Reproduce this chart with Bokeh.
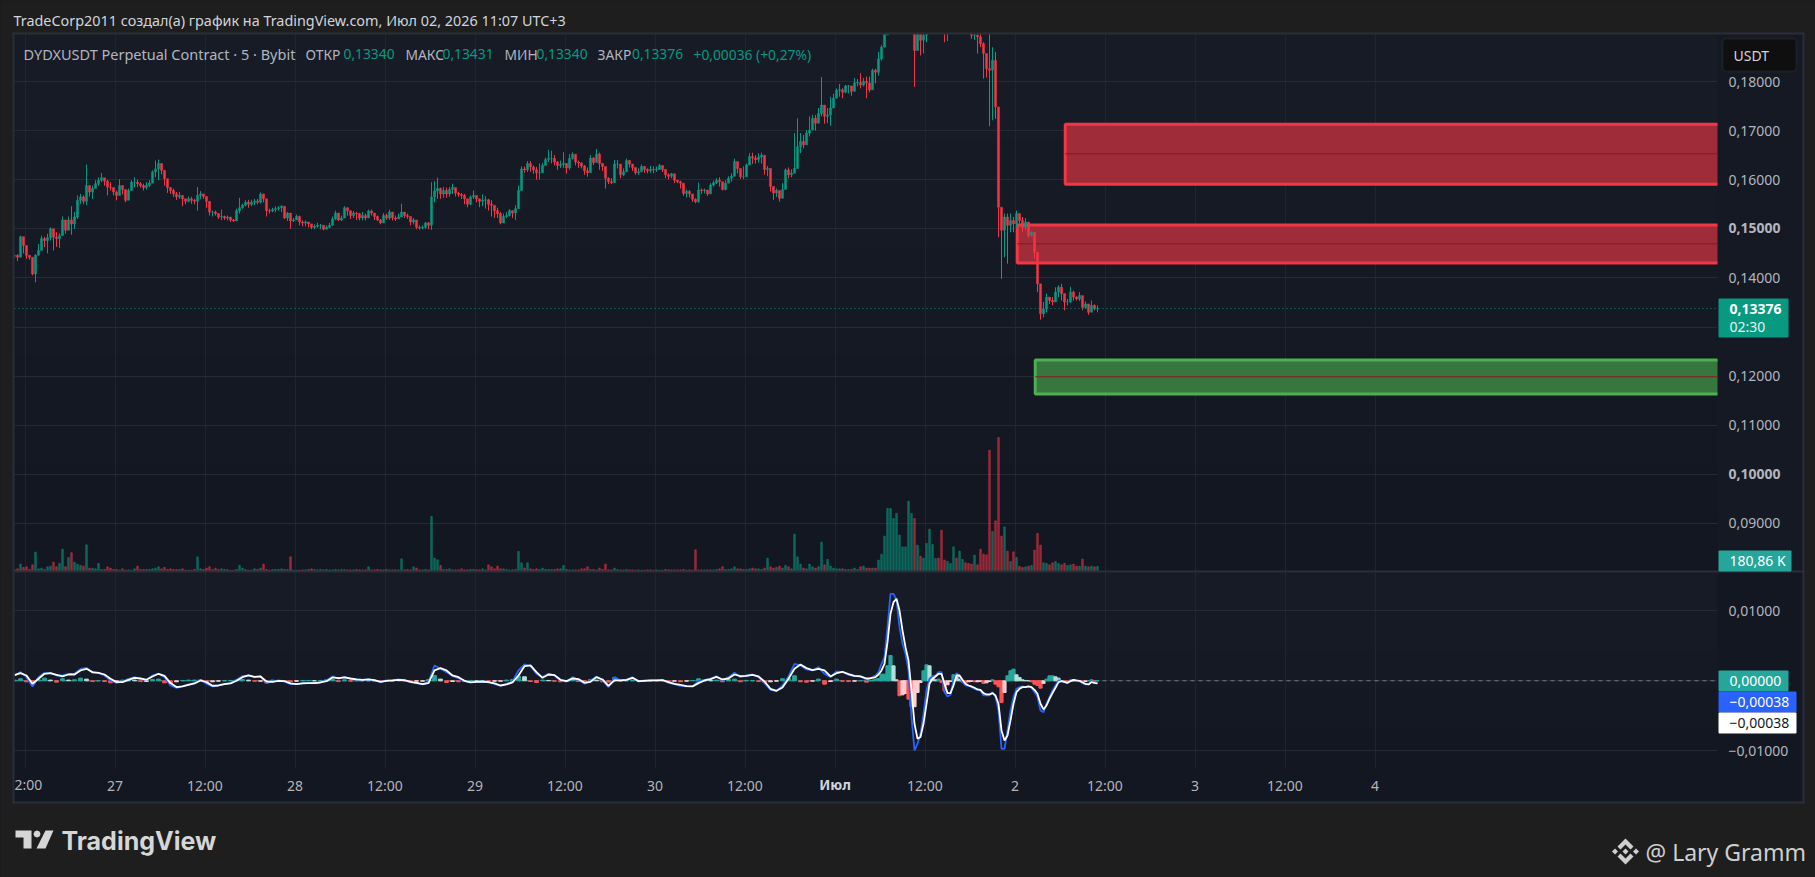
import numpy as np
from bokeh.plotting import figure
from bokeh.layouts import column
from bokeh.embed import file_html
from bokeh.resources import INLINE
from bokeh.models import (Range1d, FixedTicker, Label, BoxAnnotation, Span, PolyAnnotation,
                          GlobalInlineStyleSheet)

# ---- prices in thousandths of USDT, one sample every 24 minutes
close_m = [144.6,144.2,148.4,146.6,144.6,144.2,140.8,144.6,145.6,148.0,147.6,148.2,150.0,148.3,148.0,148.6,151.8,149.7,151.8,151.0,
 152.4,155.8,156.5,155.6,158.8,157.5,158.2,159.2,159.9,160.4,159.7,158.5,158.4,157.5,156.8,158.8,158.0,155.8,157.8,159.5,
 159.5,159.2,158.8,158.4,158.8,159.3,161.6,162.2,163.3,161.9,160.2,158.4,157.8,157.1,156.5,156.8,156.1,155.6,156.1,155.8,
 155.6,156.8,157.1,156.6,155.6,153.4,153.4,153.1,152.4,152.5,152.2,152.4,151.8,151.6,153.7,154.3,154.8,155.4,155.0,155.4,
 155.6,155.4,157.1,156.1,153.7,153.6,153.9,154.1,154.3,154.6,152.2,153.2,151.6,151.8,152.5,151.4,
 151.2,151.4,151.0,150.3,150.5,150.7,150.7,149.9,150.3,150.7,152.0,153.2,151.8,152.2,154.3,153.7,152.7,153.2,153.1,152.2,
 152.7,152.2,153.6,153.2,152.5,151.8,151.2,152.7,152.2,153.4,152.2,152.0,152.4,153.4,152.7,152.5,151.4,151.8,150.3,150.2,150.3,151.2,150.7,
 156.5,157.7,158.2,157.1,157.8,157.1,158.0,158.4,157.3,157.0,156.8,156.1,155.0,156.5,156.8,156.1,155.6,155.8,155.9,155.0,154.8,153.7,153.1,151.2,152.5,152.7,153.7,153.2,154.1,157.8,
 162.2,162.0,163.3,162.6,162.0,161.4,161.4,162.9,164.1,164.3,164.3,163.6,162.9,163.1,163.3,162.4,164.3,165.2,163.6,163.4,
 162.8,161.8,161.4,164.4,163.5,165.2,163.3,162.7,160.3,159.6,159.4,163.2,163.2,161.0,161.6,163.9,163.2,162.5,161.4,161.6,162.7,162.1,161.8,162.1,162.0,162.1,162.9,162.1,161.0,160.7,161.2,159.9,159.6,159.3,157.2,157.6,157.1,156.0,155.5,157.9,157.8,157.9,157.1,158.9,159.4,159.9,159.6,158.0,159.3,160.3,160.7,163.7,162.3,160.6,160.6,163.0,164.7,164.4,164.1,164.6,165.0,162.1,162.3,158.6,157.3,157.8,156.2,158.0,162.0,161.0,161.3,162.3,
 166.7,167.8,167.1,169.5,170.1,172.5,171.5,173.5,175.2,172.9,173.2,174.6,176.6,178.2,178.3,177.8,179.1,179.1,178.0,179.7,179.8,179.3,180.0,179.7,178.3,
 182.3,181.9,184.6,187.0,189.5,191.1,191.8,192.5,192.8,193.1,193.5,193.8,194.2,194.5,186.3,189.7,188.4,189.4,190.1,191.8,192.5,193.1,192.5,191.8,190.1,190.1,191.8,192.1,191.8,192.5,192.8,192.5,191.4,189.4,189.4,189.1,187.7,185.7,182.6,
 182.3,184.3,174.8,154.4,149.7,152.4,150.7,151.7,151.0,153.1,151.7,150.3,151.4,148.6,149.3,145.2,138.8,132.7,133.7,136.1,135.4,135.1,137.1,138.1,136.8,135.1,135.1,137.1,136.1,135.7,136.4,134.0,134.7,133.0,134.4,133.7,133.76]

high_m = [144.8,144.8,148.6,147.6,145.2,144.6,143.5,144.8,146.9,148.6,148.4,149.0,150.3,149.1,149.3,149.1,152.5,151.6,152.5,154.6,
 153.4,156.8,157.1,156.8,163.1,158.8,158.8,159.9,160.5,161.4,160.2,160.0,159.5,158.2,157.8,160.1,158.5,157.1,158.2,159.9,
 160.5,160.0,159.5,159.2,159.5,159.9,161.9,163.9,164.1,163.3,161.2,159.9,158.5,158.2,157.5,157.5,156.8,156.1,156.6,156.5,
 156.1,158.5,157.7,157.0,156.5,154.1,153.7,153.7,153.1,153.9,152.7,152.7,152.2,152.0,154.1,156.3,155.1,155.8,155.9,155.9,
 156.1,156.1,157.4,156.8,156.1,154.1,154.3,154.6,154.6,154.8,153.7,153.4,152.4,152.2,152.9,152.7,
 151.7,151.7,151.4,150.9,150.9,151.2,151.0,150.3,150.7,151.2,152.5,153.7,152.2,152.7,154.6,154.3,153.4,153.6,153.4,153.2,
 153.4,153.1,153.9,153.9,153.2,152.7,152.0,153.2,153.1,153.9,152.7,152.7,153.1,155.1,153.2,153.1,152.2,152.2,151.0,150.7,150.7,151.4,151.4,
 159.5,159.7,160.4,158.4,158.5,158.4,158.5,159.2,158.0,157.5,157.3,157.1,155.8,156.8,157.8,156.6,156.1,157.0,156.6,156.1,155.8,154.4,154.3,153.4,153.1,153.4,154.0,153.7,154.8,158.8,
 162.7,162.7,163.8,163.8,162.9,162.6,163.3,163.4,164.5,166.1,165.9,165.0,163.8,163.9,165.6,163.3,165.2,165.6,164.3,163.9,
 163.5,163.0,162.5,165.0,164.6,166.3,165.5,163.3,162.3,160.5,160.3,164.0,164.0,162.3,162.3,164.3,164.0,163.2,162.1,162.3,163.1,162.8,162.3,162.8,162.7,162.7,163.2,162.7,162.1,161.3,161.4,160.7,159.9,159.8,158.4,158.0,157.9,157.1,156.2,159.4,158.2,158.2,157.9,159.3,159.8,160.3,160.5,159.3,159.9,160.7,161.3,164.3,163.3,161.6,162.7,163.3,165.4,165.5,165.0,165.4,165.5,163.2,162.8,161.3,158.6,158.2,157.3,159.3,162.3,162.5,162.1,169.5,
 172.5,169.5,169.1,170.1,172.9,173.2,173.2,174.6,180.9,174.6,174.6,176.9,177.5,178.6,179.5,178.6,179.3,179.3,178.6,180.7,180.5,181.7,180.7,181.0,181.0,
 182.6,182.6,186.0,187.4,190.4,192.5,193.1,193.8,194.2,194.5,194.5,194.8,195.2,195.9,190.4,191.1,191.1,190.8,191.8,193.1,193.8,194.5,193.8,193.1,191.8,191.8,193.1,193.5,193.1,193.8,194.2,193.8,192.8,190.8,190.8,191.1,189.7,188.0,184.4,
 189.7,187.0,186.0,174.5,150.3,153.1,153.1,153.1,152.4,153.7,152.0,152.4,152.2,150.0,149.5,149.0,143.5,136.8,135.1,136.8,136.1,136.1,138.1,138.5,138.8,136.8,135.7,138.2,137.4,136.2,137.1,135.4,135.2,133.7,135.4,134.6,134.4]

low_m = [143.9,143.4,144.8,145.0,143.9,143.7,140.5,139.1,144.6,146.3,146.3,145.0,147.6,145.6,146.3,146.1,149.3,149.0,149.7,148.8,
 150.0,152.0,155.1,155.0,154.8,156.6,156.1,158.5,158.8,159.5,158.8,156.8,157.8,156.8,155.8,157.1,157.0,155.4,156.8,158.4,
 158.5,158.5,158.4,157.8,158.0,158.5,160.0,160.5,159.9,161.1,158.8,157.3,157.1,156.5,155.9,156.1,154.6,155.0,155.4,155.1,
 155.0,153.7,156.1,156.1,154.3,152.7,152.5,152.7,152.0,151.8,151.8,151.7,151.4,151.4,151.6,153.1,154.1,154.6,154.3,154.6,
 154.8,155.0,155.2,155.4,152.5,153.1,153.4,153.4,153.7,153.4,152.0,151.6,150.0,151.4,151.8,150.7,
 150.5,150.5,150.3,149.9,149.9,150.2,149.9,149.7,149.9,150.1,150.7,151.8,151.6,151.6,152.2,152.7,152.0,152.2,151.8,151.7,
 151.7,151.7,152.2,152.7,151.8,151.6,150.9,151.4,151.8,151.8,151.7,151.6,152.0,152.5,152.2,152.0,150.7,150.9,149.9,149.8,149.9,150.0,149.9,
 149.8,155.4,156.1,156.1,156.3,156.3,156.5,157.1,156.6,156.5,156.1,155.0,154.4,154.8,156.1,155.4,154.4,154.6,154.1,153.7,152.5,152.2,152.2,150.9,151.7,152.2,152.5,152.2,151.8,155.8,
 159.2,161.4,161.6,161.6,161.2,160.0,160.0,161.6,163.3,163.6,163.3,162.9,162.0,162.4,162.4,161.2,162.0,164.1,162.9,162.4,
 162.3,161.0,160.6,162.8,163.0,164.1,162.0,161.8,158.2,159.1,159.1,159.4,162.3,160.3,160.7,161.6,162.5,161.8,161.0,161.0,161.8,161.4,161.3,161.4,161.3,161.6,162.1,161.6,160.3,160.1,160.3,159.3,159.3,158.2,156.7,156.4,156.4,155.5,155.2,155.3,157.1,157.2,156.7,157.3,158.6,159.1,158.6,157.8,157.8,159.6,159.6,161.3,161.3,160.2,160.1,162.0,163.2,163.2,163.3,163.5,163.3,161.0,160.7,157.6,155.9,156.5,155.5,156.5,159.3,160.3,160.5,161.8,
 166.4,165.4,166.4,167.1,168.8,170.1,170.0,172.2,172.9,171.4,171.5,171.0,175.2,176.6,176.9,176.6,177.6,177.6,177.1,178.6,179.0,178.6,179.0,176.6,177.8,
 181.2,179.6,181.2,184.3,187.0,190.1,190.3,190.4,190.8,190.8,191.1,191.1,191.4,190.8,178.9,187.7,185.3,185.7,188.0,190.1,190.4,190.8,190.4,190.3,188.0,188.2,190.3,190.4,190.4,190.6,190.8,190.6,190.3,188.7,188.5,185.7,187.0,180.6,180.8,
 170.9,172.1,172.4,148.3,139.8,144.2,142.9,149.3,149.3,150.3,151.0,149.3,149.7,148.2,148.4,143.9,137.1,131.5,132.0,133.0,134.7,134.4,135.1,136.1,135.4,133.4,134.4,134.9,135.4,135.4,135.3,133.4,133.7,132.5,133.7,133.4,133.0]

volume_k = [72,96,264,144,168,72,240,696,96,120,72,168,192,336,168,288,804,168,504,672,336,264,216,192,960,120,120,96,288,72,72,168,120,72,72,48,96,48,60,48,96,192,72,72,72,72,96,120,168,96,144,72,96,72,72,72,96,48,48,48,72,528,96,72,120,168,72,120,72,96,72,72,48,48,72,216,120,72,48,48,96,72,120,264,72,48,72,72,72,96,72,72,528,48,48,48,
 60,60,72,96,72,60,72,60,72,60,60,72,60,72,72,60,60,60,72,60,60,60,168,60,60,72,60,60,72,60,60,60,60,456,60,72,60,168,120,60,60,72,60,1980,480,420,216,
 72,72,96,60,60,60,96,60,60,72,72,60,60,96,60,240,168,96,192,96,96,72,60,60,72,720,312,120,312,96,72,96,72,120,72,72,72,72,96,96,216,72,60,60,60,60,96,96,168,72,72,60,120,72,264,60,60,120,72,60,60,72,60,60,48,60,48,48,60,60,48,60,48,48,72,60,60,60,60,60,72,48,60,48,780,60,60,60,60,60,60,72,96,168,72,72,96,168,96,96,72,72,96,120,96,96,72,120,480,168,120,144,192,120,216,168,96,1344,528,264,120,96,264,168,120,168,1056,240,432,192,120,96,96,96,72,72,72,120,72,168,192,120,120,
 120,120,408,624,1272,2268,2268,1908,2088,1308,888,888,2532,2088,1908,948,552,480,1008,1524,972,468,480,1488,408,360,288,888,480,732,432,312,288,264,588,240,804,624,600,4368,1440,1824,4824,1272,1608,732,360,708,504,180,144,168,192,216,768,1368,948,312,288,240,312,360,288,240,288,216,240,264,192,192,444,192,168,192,168,180.86]

# ---- MACD, in units of 0.00001: 48-minute samples up to 1 Jul evening, then 24-minute samples
macd_e5 = [76,124,52,-81,52,114,109,76,76,100,100,171,186,114,114,76,5,-29,-10,29,52,29,14,76,100,52,-67,-100,-81,-52,-33,14,-43,-81,-67,-43,-33,14,67,76,52,62,-33,-10,5,-10,-48,-48,-33,-33,-33,-19,5,62,29,57,29,19,14,19,5,-19,5,5,19,5,-19,-33,-52,-19,219,171,
 124,67,38,-5,-19,-14,-10,-24,-43,-71,-43,-10,148,233,209,100,52,100,76,5,-10,52,14,-43,5,62,5,-90,52,5,14,52,-10,5,5,5,14,-29,-48,-71,-81,-76,-5,14,29,67,5,52,114,52,76,90,52,-33,-129,-148,-67,62,243,219,162,148,195,100,52,133,124,86,67,62,14,
 29,52,76,124,243,338,766,1242,1242,1157,766,528,386,148,-519,-995,-900,-757,-471,-138,29,62,76,124,124,-162,-224,-200,5,109,76,-19,-67,-67,-90,-114,-129,-138,-209,-209,-209,-162,-233,-424,-971,-971,-709,-424,-233,-114,-90,-81,-90,-81,-100,-162,-233,-424,-447,-328,-233,-138,-67,5,-5,-19,-33,5,14,-5,-5,-33,-52,-52,-5,-33,-38]

signal_e5 = [81,109,76,-43,29,100,109,86,62,90,90,148,171,124,114,90,29,-19,-19,14,43,33,14,62,100,71,-33,-90,-81,-57,-38,5,-19,-71,-67,-48,-38,0,52,76,57,62,-10,-14,0,-5,-38,-48,-38,-33,-33,-24,-5,48,38,48,33,19,14,19,10,-14,0,5,14,10,-14,-29,-48,-33,148,181,
 148,76,52,0,-24,-14,-10,-19,-38,-67,-52,-24,76,209,219,124,43,90,81,14,-5,33,24,-29,-14,52,19,-71,5,5,14,43,-5,0,5,5,10,-19,-43,-57,-76,-81,-33,5,24,57,19,33,90,67,71,86,62,-10,-114,-143,-95,29,171,233,181,152,171,148,62,109,129,95,71,62,33,
 33,43,52,90,148,243,552,957,1123,1171,1004,719,481,290,-138,-614,-828,-804,-614,-328,-43,29,62,100,100,-43,-176,-176,-67,76,76,14,-43,-67,-81,-100,-124,-129,-176,-195,-195,-176,-209,-328,-709,-852,-781,-566,-328,-162,-114,-90,-90,-81,-90,-129,-186,-328,-409,-352,-257,-176,-100,-19,-5,-14,-29,-5,14,5,0,-24,-43,-52,-19,-29,-38]

hist_e5 = [10,29,-14,-43,14,38,10,-19,29,10,14,38,24,-10,0,-10,-29,-14,10,14,10,-10,-10,19,24,-29,-38,-14,5,10,10,14,-19,-14,-5,5,5,10,19,10,-5,-5,-29,10,5,-5,-14,-5,5,5,0,5,14,24,-10,14,-5,0,0,0,-5,-10,5,0,5,-5,-10,-5,-5,19,76,24,
 -24,-10,-14,-5,5,0,5,-5,-5,-5,10,19,67,57,-10,-24,10,5,-5,-14,-5,19,-10,-14,19,10,-14,-19,48,0,0,10,-5,5,0,0,5,-10,-5,-14,-5,5,29,10,5,10,-14,19,24,-14,5,5,-10,-24,-14,-5,29,33,71,-14,-19,-5,24,-48,-10,24,-5,-10,-5,0,-19,
 0,10,24,33,95,95,214,362,214,14,-214,-200,-181,-262,-371,-371,-167,-24,143,228,214,48,14,24,-24,-143,-57,-10,86,71,24,-19,-29,-14,-10,-14,-14,-10,-38,-29,-10,14,-48,-86,-309,-167,71,143,167,86,48,14,5,0,-14,-48,-67,-105,-38,24,71,71,57,38,0,-10,-14,10,0,-10,-10,-14,-10,0,14,-5,0]

# ---- zones, prices and start hour
zone_top = [0.1713, 0.15079, 0.1233]
zone_bottom = [0.15908, 0.14301, 0.11633]
zone_mid = [0.16527, 0.14695, 0.11986]
zone_start = [138.7, 132.3, 134.7]
zone_fill = ["#9f2c39", "#9f2c39", "#37773f"]
zone_line = ["#f23645", "#f23645", "#4caf50"]
zone_midline = ["#7f1a24", "#7f1a24", "#8a1c1c"]

price_ticks = [0.09, 0.10, 0.11, 0.12, 0.13, 0.14, 0.15, 0.16, 0.17, 0.18]
macd_ticks = [-0.01, 0.0, 0.01]
time_ticks = [0, 12, 24, 36, 48, 60, 72, 84, 96, 108, 120, 132, 144, 156, 168, 180]
time_labels = ["", "27", "12:00", "28", "12:00", "29", "12:00", "30", "12:00", "", "12:00", "2", "12:00", "3", "12:00", "4"]

UP, DOWN = "#089981", "#f23645"
OUTER, EDGE = "#1e1e1e", "#2a2e39"
TXT, FONT = "#b2b5be", "Noto Sans"

fx = lambda px: (px - 24.5) / 7.5
py1 = lambda py: 0.18 - (py - 81) / 4910
py2 = lambda py: -(py - 680.3) / 7000

x_rng = Range1d(fx(14), fx(1717))

def base(h, yr, bottom, top, strip):
    p = figure(width=1815, height=h, x_range=x_rng, y_range=yr, y_axis_location="right",
               output_backend="svg", toolbar_location=None, tools="",
               min_border_left=14, min_border_right=98, min_border_top=top, min_border_bottom=bottom,
               background_fill_color="#131722", border_fill_color=strip)
    p.outline_line_color = None
    p.xgrid.ticker = FixedTicker(ticks=time_ticks)
    p.xgrid.grid_line_color = "#20242e"
    p.ygrid.grid_line_color = "#262a33"
    p.xgrid.grid_line_width = 1
    p.ygrid.grid_line_width = 1
    ax = p.yaxis[0]
    ax.axis_line_color = None
    ax.major_tick_line_color = None
    ax.minor_tick_line_color = None
    ax.major_tick_out = 0
    ax.major_label_standoff = 11
    ax.major_label_text_color = TXT
    ax.major_label_text_font = FONT
    ax.major_label_text_font_size = "14px"
    return p

def band_rect(p, Yf, x0, y0, x1, y1, color):
    return BoxAnnotation(left=fx(x0), right=fx(x1), top=Yf(y0), bottom=Yf(y1), fill_color=color, fill_alpha=1,
                         line_color=None, line_width=0, level="underlay")

def hex_mix(a, b, f):
    ca = [int(a[i:i + 2], 16) for i in (1, 3, 5)]
    cb = [int(b[i:i + 2], 16) for i in (1, 3, 5)]
    return "#%02x%02x%02x" % tuple(int(round(u + (v - u) * f)) for u, v in zip(ca, cb))

def bands(p, Yf, y0, y1, n=10):
    out = []
    for i in range(n):
        a = y0 + (y1 - y0) * i / n
        b = y0 + (y1 - y0) * (i + 1) / n
        out.append(band_rect(p, Yf, 14, a, 1717, b + 0.5, hex_mix("#171b26", "#131722", i / (n - 1))))
    p.center = out + list(p.center)

# ================= price pane
p1 = base(571, Range1d(py1(571), py1(33)), 0, 33, "#151924")
p1.extra_y_ranges = {"vol": Range1d(0, 538 * 36)}
p1.xaxis.visible = False
p1.yaxis[0].ticker = FixedTicker(ticks=price_ticks)
p1.yaxis[0].major_label_overrides = {v: ("" if v in (0.10, 0.13, 0.15) else ("%.5f" % v).replace(".", ",")) for v in price_ticks}
p1.stylesheets = [GlobalInlineStyleSheet(css="html,body{background:#1e1e1e;}")]
bands(p1, py1, 33, 571)

close = np.array(close_m) / 1000
high = np.array(high_m) / 1000
low = np.array(low_m) / 1000
openp = np.concatenate([[0.1444], close[:-1]])
t = -1.4 + 0.4 * np.arange(len(close))
colors = [UP if c >= o else DOWN for o, c in zip(openp, close)]

vol = np.array(volume_k, dtype=float)
vt = -1.4 + 0.4 * np.arange(len(vol))
vcol = [colors[min(i, len(colors) - 1)] for i in range(len(vol))]
p1.vbar(x=vt, top=vol, bottom=0, width=0.2, color=vcol, alpha=0.5, y_range_name="vol")

ze = [260] * 3
p1.quad(left=zone_start, right=ze, top=zone_top, bottom=zone_bottom, fill_color=zone_fill,
        line_color=zone_line, line_width=3, fill_alpha=1)
p1.segment(x0=zone_start, x1=ze, y0=zone_mid, y1=zone_mid, line_color=zone_midline, line_width=1)

p1.segment(x0=t, x1=t, y0=low, y1=high, line_color=colors, line_width=1)
p1.vbar(x=t, top=np.maximum(openp, close), bottom=np.minimum(openp, close), width=0.28, fill_color=colors, line_color=colors, line_width=0.5)

p1.add_layout(Span(location=close[-1], dimension="width", line_color=UP, line_dash="1 3", line_width=1))

# ================= MACD pane
p2 = base(306, Range1d(py2(767), py2(571)), 110, 0, "#131722")
p2.yaxis[0].ticker = FixedTicker(ticks=macd_ticks)
p2.yaxis[0].major_label_overrides = {0.01: "0,01000", 0.0: "", -0.01: "−0,01000"}
xa = p2.xaxis[0]
xa.ticker = FixedTicker(ticks=time_ticks)
xa.major_label_overrides = dict(zip(time_ticks, time_labels))
xa.axis_line_color = None
xa.major_tick_line_color = None
xa.minor_tick_line_color = None
xa.major_tick_out = 0
xa.major_label_standoff = 8
xa.major_label_text_color = TXT
xa.major_label_text_font = FONT
xa.major_label_text_font_size = "14px"
bands(p2, py2, 571, 767)

macd = np.array(macd_e5) * 1e-5
signal = np.array(signal_e5) * 1e-5
hist = np.array(hist_e5) * 1e-5
nc = 143
mt = np.concatenate([-1.4 + 0.8 * np.arange(nc), 112.6 + 0.4 * np.arange(len(macd) - nc)])
ht = np.concatenate([-1.4 + 0.8 * np.arange(nc), 112.6 + 0.4 * np.arange(len(hist) - nc)])
hw = [0.5] * nc + [0.42] * (len(hist) - nc)
hc = []
for i, v in enumerate(hist):
    prev = hist[i - 1] if i else 0
    if v >= 0:
        hc.append("#26a69a" if v >= prev else "#b2dfdb")
    else:
        hc.append("#ffcdd2" if v >= prev else "#ff5252")

p2.add_layout(Span(location=0, dimension="width", line_color="#787b86", line_dash="4 4", line_width=1, level="underlay"))
p2.vbar(x=ht, top=hist, bottom=0, width=hw, color=hc)
p2.line(mt, macd, line_color="#2962ff", line_width=1.8)
p2.line(mt, signal, line_color="#ffffff", line_width=1.8)

# ================= transparent page layer for frame, badges and free texts (pixel coordinates of the page)
ov = figure(width=1815, height=877, x_range=Range1d(0, 1815), y_range=Range1d(877, 0),
            output_backend="svg", toolbar_location=None, tools="",
            x_axis_location=None, y_axis_location=None,
            min_border_left=0, min_border_right=0, min_border_top=0, min_border_bottom=0,
            background_fill_alpha=0, border_fill_alpha=0,
            styles={"position": "absolute", "left": "0px", "top": "0px", "pointer-events": "none"})
ov.outline_line_color = None
ov.grid.visible = False

def rect(x0, y0, x1, y1, color, radius=0, line=None, lw=1.5):
    ov.add_layout(BoxAnnotation(left=x0, right=x1, top=y0, bottom=y1, fill_color=color, fill_alpha=1,
                                line_color=line, line_width=lw if line else 0, border_radius=radius))

def text(x, y, s, color=TXT, size="14px", bold=False, align="left", font=FONT):
    ov.add_layout(Label(x=x, y=y, text=s, text_color=color, text_font=font, text_font_size=size,
                        text_font_style="bold" if bold else "normal", text_baseline="middle", text_align=align))

def poly(pts, color):
    ov.add_layout(PolyAnnotation(xs=[a for a, _ in pts], ys=[b for _, b in pts],
                                 fill_color=color, fill_alpha=1, line_color=None))

# surround
rect(0, 0, 1815, 33, OUTER)
rect(0, 0, 12, 877, OUTER)
rect(1804, 0, 1815, 877, OUTER)
rect(0, 801, 1815, 877, OUTER)
# frame edges
rect(12, 32, 1804, 34, EDGE)
rect(12, 32, 14, 803, EDGE)
rect(1802, 32, 1804, 803, EDGE)
rect(12, 801, 1804, 803, EDGE)
rect(14, 570, 1804, 572, EDGE)

rect(1722, 38, 1796, 71, "#0f0f0f", radius=4, line="#363a45", lw=2)
text(1733, 54.5, "USDT", "#d1d4dc")
text(1728, 227.3, "0,15000", TXT, bold=True)
text(1728, 473, "0,10000", TXT, bold=True)
rect(1718, 298, 1788, 337, UP, radius=1)
text(1729, 308, "0,13376", "#ffffff", bold=True)
text(1729, 325.5, "02:30", "#e0f2ef")
rect(1718, 550, 1791, 571, "#26a69a", radius=1)
text(1729, 560, "180,86 K", "#ffffff")

text(13, 20, "TradeCorp2011 создал(а) график на TradingView.com, Июл 02, 2026 11:07 UTC+3", "#d1d4dc", "14.4px")
LY = 53.5
text(23, LY, "DYDXUSDT Perpetual Contract · 5 · Bybit", TXT, "14.5px")
for x, s, c in [(305, "ОТКР", TXT), (343, "0,13340", UP),
                (405, "МАКС", TXT), (442, "0,13431", UP), (504, "МИН", TXT), (536, "0,13340", UP),
                (597, "ЗАКР", TXT), (631.5, "0,13376", UP), (693, "+0,00036 (+0,27%)", UP)]:
    text(x, LY, s, c, "13.8px")

text(14, 784, "2:00")
text(834.5, 784, "Июл", "#d1d4dc", bold=True, align="center")

rect(1718, 670, 1788, 691, "#26a69a", radius=1)
text(1729, 680, "0,00000", "#ffffff")
rect(1718, 691, 1796, 712, "#2962ff", radius=1)
text(1729, 701, "−0,00038", "#ffffff")
rect(1718, 712, 1796, 733, "#ffffff", radius=1)
text(1729, 722, "−0,00038", "#131722")

# TradingView logo and text
LOGO = "#d6d6d6"
poly([(15, 830), (31, 830), (31, 848), (23, 848), (23, 837), (15, 837)], LOGO)
poly([(36.5, 830), (39, 831), (40, 833.5), (39, 836), (36.5, 837), (34, 836), (33, 833.5), (34, 831)], LOGO)
poly([(45, 830), (53, 830), (45, 848), (36, 848)], LOGO)
text(61, 840, "TradingView", LOGO, "25px", bold=True, font="Inter")

# signature with its small emblem
SIG = "#cfcfcf"
poly([(1625, 838), (1633, 846), (1630, 849), (1625, 844), (1620, 849), (1617, 846)], SIG)
poly([(1625, 864), (1633, 856), (1630, 853), (1625, 858), (1620, 853), (1617, 856)], SIG)
for cx in (1614.5, 1625, 1635.5):
    poly([(cx, 848), (cx + 3, 851), (cx, 854), (cx - 3, 851)], SIG)
text(1645, 851, "@ Lary Gramm", SIG, "23px")

open("out.html", "w").write(file_html([column(p1, p2, spacing=0), ov], INLINE))
